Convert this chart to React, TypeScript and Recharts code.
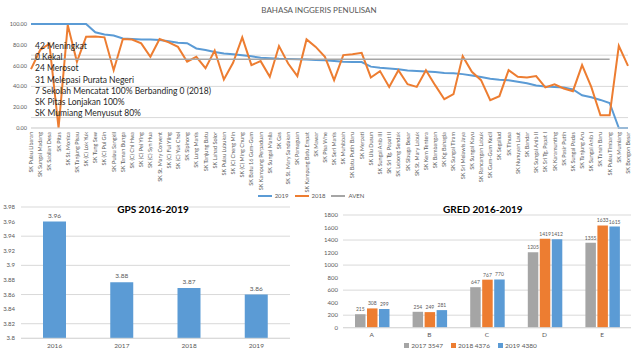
import React from 'react';
import { LineChart, Line, BarChart, Bar, XAxis, YAxis, CartesianGrid, Legend, LabelList } from 'recharts';

const schools = [
  'SK Pulau Libaran', 'SK Sungai Madang', 'SK Sabilan Desa', 'SK Pitas', 'SK St. Monica',
  'SK Tanjung Pisau', 'SK (C) Lok Yuk', 'SK Tung Sew', 'SK (C) Pui Gin', 'SK Pulau Sangkil',
  'SK Taman Bunga', 'SK (C) Chi Hwa', 'SK (C) Pei Ying', 'SK (C) Syn Hua', 'SK St. Mary Convent',
  'SK (C) Fui Yiing', 'SK (C) Yuk Choi', 'SK Sipinong', 'SK Lung Manis', 'SK Tanjung Batu',
  'SK Lahad Solor', 'SK Pulau Lubukan', 'SK (C) Cheng Min', 'SK (C) Ming Chung', 'SK Batu 16 Gum-Gum',
  'SK Kampung Perpaduan', 'SK Sungai Manila', 'SK Gas', 'SK St. Mary Sandakan', 'SK Pamaguan',
  'SK Kampung Batu Empat', 'SK Mawar', 'SK Pisa Whe', 'SK Seri Manis', 'SK Muhibbah',
  'SK Batu Putih Baru', 'SK Merpati', 'SK Ulu Dusun', 'SK Sungai Anib III', 'SK Sri Tg. Papat II',
  'SK Lebong Sendak', 'SK Sibuga Besar', 'SK St. Mary Labuk', 'SK Kem Tentera', 'SK Bambangan',
  'SK Kg Bahagia', 'SK Sungai Tiram', 'SK Sri Melawis Jaya', 'SK Sungai Kayu', 'SK Rancangan Labuk',
  'SK Gum-Gum Kecil', 'SK Segaliud', 'SK Tinusa', 'SK Nunuyan Laut', 'SK Bandar',
  'SK Sungai Anib II', 'SK Sri Tg. Papat I', 'SK Karamunting', 'SK Pasir Putih', 'SK Sungai Padas',
  'SK Tanjung Aru', 'SK Sungai Anib I', 'SK Tanah Baru', 'SK Pulau Timbang', 'SK Mumiang',
  'SK Bongon Besar',
];

const score2019 = [
  100, 100, 100, 100, 100, 100, 100, 92, 90, 89,
  86, 85.5, 85, 85, 84.6, 83.5, 82, 81.5, 76.5, 75,
  73, 71.7, 70.8, 70, 69, 67.5, 67, 66.5, 66.3, 66,
  65.8, 65.5, 65.2, 64.5, 63.7, 63.5, 63.4, 59, 58, 57.3,
  56.6, 55.3, 54.8, 54.3, 53.8, 53, 52.6, 51.8, 50.5, 49,
  47.3, 46.5, 46, 44.5, 43, 40.9, 40, 39.5, 39, 37,
  31.5, 29.5, 27, 24.1, 0, 0,
];

const score2018 = [
  56.6, 75, 81, 0, 99, 63.7, 87.8, 88, 87.2, 55.6,
  85.5, 85, 81.4, 68.5, 85.5, 82.3, 78, 63.7, 68.5, 57.5,
  74.5, 46.7, 62.7, 87.2, 60.5, 64.3, 49.2, 78.8, 62, 49.9,
  85.2, 78, 68.5, 46, 70.1, 71, 72.3, 48.6, 54.7, 39.5,
  55.6, 42.1, 39.5, 55.6, 41.2, 27.7, 32.5, 69.1, 54, 46,
  26.7, 30.6, 55.6, 49.2, 48.6, 49.9, 39, 41.9, 38, 35.4,
  60.5, 39.5, 12.2, 12.2, 79, 59.8,
];

const avenScore = [
  66.2, 66.2, 66.2, 66.2, 66.2, 66.2, 66.2, 66.2, 66.2, 66.2,
  66.2, 66.2, 66.2, 66.2, 66.2, 66.2, 66.2, 66.2, 66.2, 66.2,
  66.2, 66.2, 66.2, 66.2, 66.2, 66.2, 66.2, 66.2, 66.2, 66.2,
  66.2, 66.2, 66.2, 66.2, 66.2, 66.2, 66.2, 66.2, 66.2, 66.2,
  66.2, 66.2, 66.2, 66.2, 66.2, 66.2, 66.2, 66.2, 66.2, 66.2,
  66.2, 66.2, 66.2, 66.2, 66.2, 66.2, 66.2, 66.2, 66.2, 66.2,
  66.2, 66.2, 66.2, 66.2, null, null,
];

const scoreTicks = [0, 10, 20, 30, 40, 50, 60, 70, 80, 90, 100];

const notes = [
  '42 Meningkat',
  '0 Kekal',
  '24 Merosot',
  '31 Melepasi Purata Negeri',
  '7 Sekolah Mencatat 100% Berbanding 0 (2018)',
  'SK Pitas Lonjakan 100%',
  'SK Mumiang Menyusut 80%',
];

const gpsYears = ['2016', '2017', '2018', '2019'];
const gpsValues = [3.96, 3.877, 3.869, 3.86];
const gpsTicks = [3.8, 3.82, 3.84, 3.86, 3.88, 3.9, 3.92, 3.94, 3.96, 3.98];

const grades = ['A', 'B', 'C', 'D', 'E'];
const gred2017 = [215, 254, 647, 1205, 1355];
const gred2018 = [308, 249, 767, 1419, 1633];
const gred2019 = [299, 281, 770, 1412, 1615];
const gredTicks = [0, 200, 400, 600, 800, 1000, 1200, 1400, 1600, 1800];

const BLUE = '#5B9BD5';
const ORANGE = '#ED7D31';
const GREY = '#A5A5A5';
const TEXT = '#595959';
const GRID = '#D9D9D9';
const FONT = 'Lato, "Open Sans", sans-serif';

const lineData = schools.map((name, i) => ({
  name,
  y2019: score2019[i],
  y2018: score2018[i],
  aven: avenScore[i],
}));

const gpsData = gpsYears.map((year, i) => ({ year, gps: gpsValues[i] }));

const gredData = grades.map((grade, i) => ({
  grade,
  g2017: gred2017[i],
  g2018: gred2018[i],
  g2019: gred2019[i],
}));

const SchoolTick = ({ x, y, payload }: any) => (
  <text
    x={x}
    y={y}
    transform={`rotate(-90, ${x}, ${y})`}
    textAnchor="end"
    dominantBaseline="central"
    fontSize={5.5}
    fill={TEXT}
    fontFamily={FONT}
  >
    {payload.value}
  </text>
);

// keeps the series order and grey label text like excel does
const SimpleLegend = ({ items, kind, fontSize, gap }: any) => (
  <div style={{ display: 'flex', justifyContent: 'center', alignItems: 'center', fontSize, color: TEXT, fontFamily: FONT }}>
    {items.map((it: any) => (
      <div key={it.name} style={{ display: 'flex', alignItems: 'center', marginRight: gap }}>
        {kind === 'line' ? (
          <span style={{ display: 'inline-block', width: 14, height: 2, background: it.color, marginRight: 3 }} />
        ) : (
          <span style={{ display: 'inline-block', width: 5, height: 5, background: it.color, marginRight: 2 }} />
        )}
        <span>{it.name}</span>
      </div>
    ))}
  </div>
);

export default function App() {
  return (
    <div style={{ position: 'absolute', left: 0, top: 0, width: 638, height: 359, background: '#fff', fontFamily: FONT, overflow: 'hidden' }}>
      <div style={{ position: 'absolute', left: 0, top: 5, width: 638, textAlign: 'center', fontSize: 8, color: TEXT }}>
        BAHASA INGGERIS PENULISAN
      </div>
      <div style={{ position: 'absolute', left: 0, top: 0 }}>
        <LineChart width={638} height={206} data={lineData} margin={{ top: 24, right: 10, left: 0, bottom: 0 }}>
          <CartesianGrid vertical={false} stroke={GRID} />
          <XAxis dataKey="name" interval={0} tickLine={false} axisLine={{ stroke: GRID }} tick={<SchoolTick />} tickSize={0} tickMargin={4} height={64} />
          <YAxis domain={[0, 100]} ticks={scoreTicks} tickFormatter={(v: number) => v.toFixed(2)} axisLine={false} tickLine={false} tickSize={2} tickMargin={2} width={31} tick={{ fontSize: 5.5, fill: TEXT }} />
          <Legend
            verticalAlign="bottom"
            height={14}
            content={() => (
              <SimpleLegend
                kind="line"
                fontSize={6}
                gap={6}
                items={[
                  { name: '2019', color: BLUE },
                  { name: '2018', color: ORANGE },
                  { name: 'AVEN', color: GREY },
                ]}
              />
            )}
          />
          <Line dataKey="y2019" name="2019" stroke={BLUE} strokeWidth={2} dot={false} isAnimationActive={false} />
          <Line dataKey="y2018" name="2018" stroke={ORANGE} strokeWidth={2} dot={false} isAnimationActive={false} />
          <Line dataKey="aven" name="AVEN" stroke={GREY} strokeWidth={1.5} dot={false} isAnimationActive={false} />
        </LineChart>
      </div>
      <div style={{ position: 'absolute', left: 35, top: 41, fontSize: 8.5, lineHeight: '11.2px', color: '#262626', whiteSpace: 'nowrap' }}>
        {notes.map((n) => (
          <div key={n}>{n}</div>
        ))}
      </div>

      <div style={{ position: 'absolute', left: 0, top: 195 }}>
        <BarChart width={318} height={164} data={gpsData} margin={{ top: 12, right: 28, left: 0, bottom: 0 }}>
          <CartesianGrid vertical={false} stroke={GRID} />
          <XAxis dataKey="year" tickLine={false} axisLine={{ stroke: GRID }} tickSize={0} tickMargin={5} height={20.7} tick={{ fontSize: 6.5, fill: TEXT }} />
          <YAxis domain={[3.8, 3.98]} ticks={gpsTicks} tickFormatter={(v: number) => String(+v.toFixed(2))} axisLine={false} tickLine={false} tickSize={2} tickMargin={4} width={21} tick={{ fontSize: 6, fill: TEXT }} />
          <Bar dataKey="gps" fill={BLUE} barSize={23} isAnimationActive={false}>
            <LabelList dataKey="gps" position="top" offset={4} formatter={(v: number) => v.toFixed(2)} style={{ fontSize: 6.5, fill: TEXT }} />
          </Bar>
        </BarChart>
      </div>
      <div style={{ position: 'absolute', left: 0, top: 203, width: 306, textAlign: 'center', fontSize: 10, fontWeight: 700, color: '#000' }}>
        GPS 2016-2019
      </div>

      <div style={{ position: 'absolute', left: 318, top: 195 }}>
        <BarChart width={320} height={164} data={gredData} margin={{ top: 20, right: 7, left: 0, bottom: 0 }} barGap={1.5}>
          <CartesianGrid vertical={false} stroke={GRID} />
          <XAxis dataKey="grade" tickLine={false} axisLine={{ stroke: GRID }} tickSize={0} tickMargin={5} height={14.3} tick={{ fontSize: 6.5, fill: TEXT }} />
          <YAxis domain={[0, 1800]} ticks={gredTicks} axisLine={false} tickLine={false} tickSize={2} tickMargin={3} width={25} tick={{ fontSize: 6, fill: TEXT }} />
          <Legend
            verticalAlign="bottom"
            height={17}
            content={() => (
              <SimpleLegend
                kind="square"
                fontSize={6.5}
                gap={8}
                items={[
                  { name: '2017 3547', color: GREY },
                  { name: '2018 4376', color: ORANGE },
                  { name: '2019 4380', color: BLUE },
                ]}
              />
            )}
          />
          <Bar dataKey="g2017" name="2017 3547" fill={GREY} barSize={10.5} isAnimationActive={false}>
            <LabelList dataKey="g2017" position="top" offset={3} style={{ fontSize: 5, fill: TEXT }} />
          </Bar>
          <Bar dataKey="g2018" name="2018 4376" fill={ORANGE} barSize={10.5} isAnimationActive={false}>
            <LabelList dataKey="g2018" position="top" offset={3} style={{ fontSize: 5, fill: TEXT }} />
          </Bar>
          <Bar dataKey="g2019" name="2019 4380" fill={BLUE} barSize={10.5} isAnimationActive={false}>
            <LabelList dataKey="g2019" position="top" offset={3} style={{ fontSize: 5, fill: TEXT }} />
          </Bar>
        </BarChart>
      </div>
      <div style={{ position: 'absolute', left: 443, top: 203, fontSize: 10, fontWeight: 700, color: '#000', whiteSpace: 'nowrap' }}>
        GRED 2016-2019
      </div>
    </div>
  );
}
